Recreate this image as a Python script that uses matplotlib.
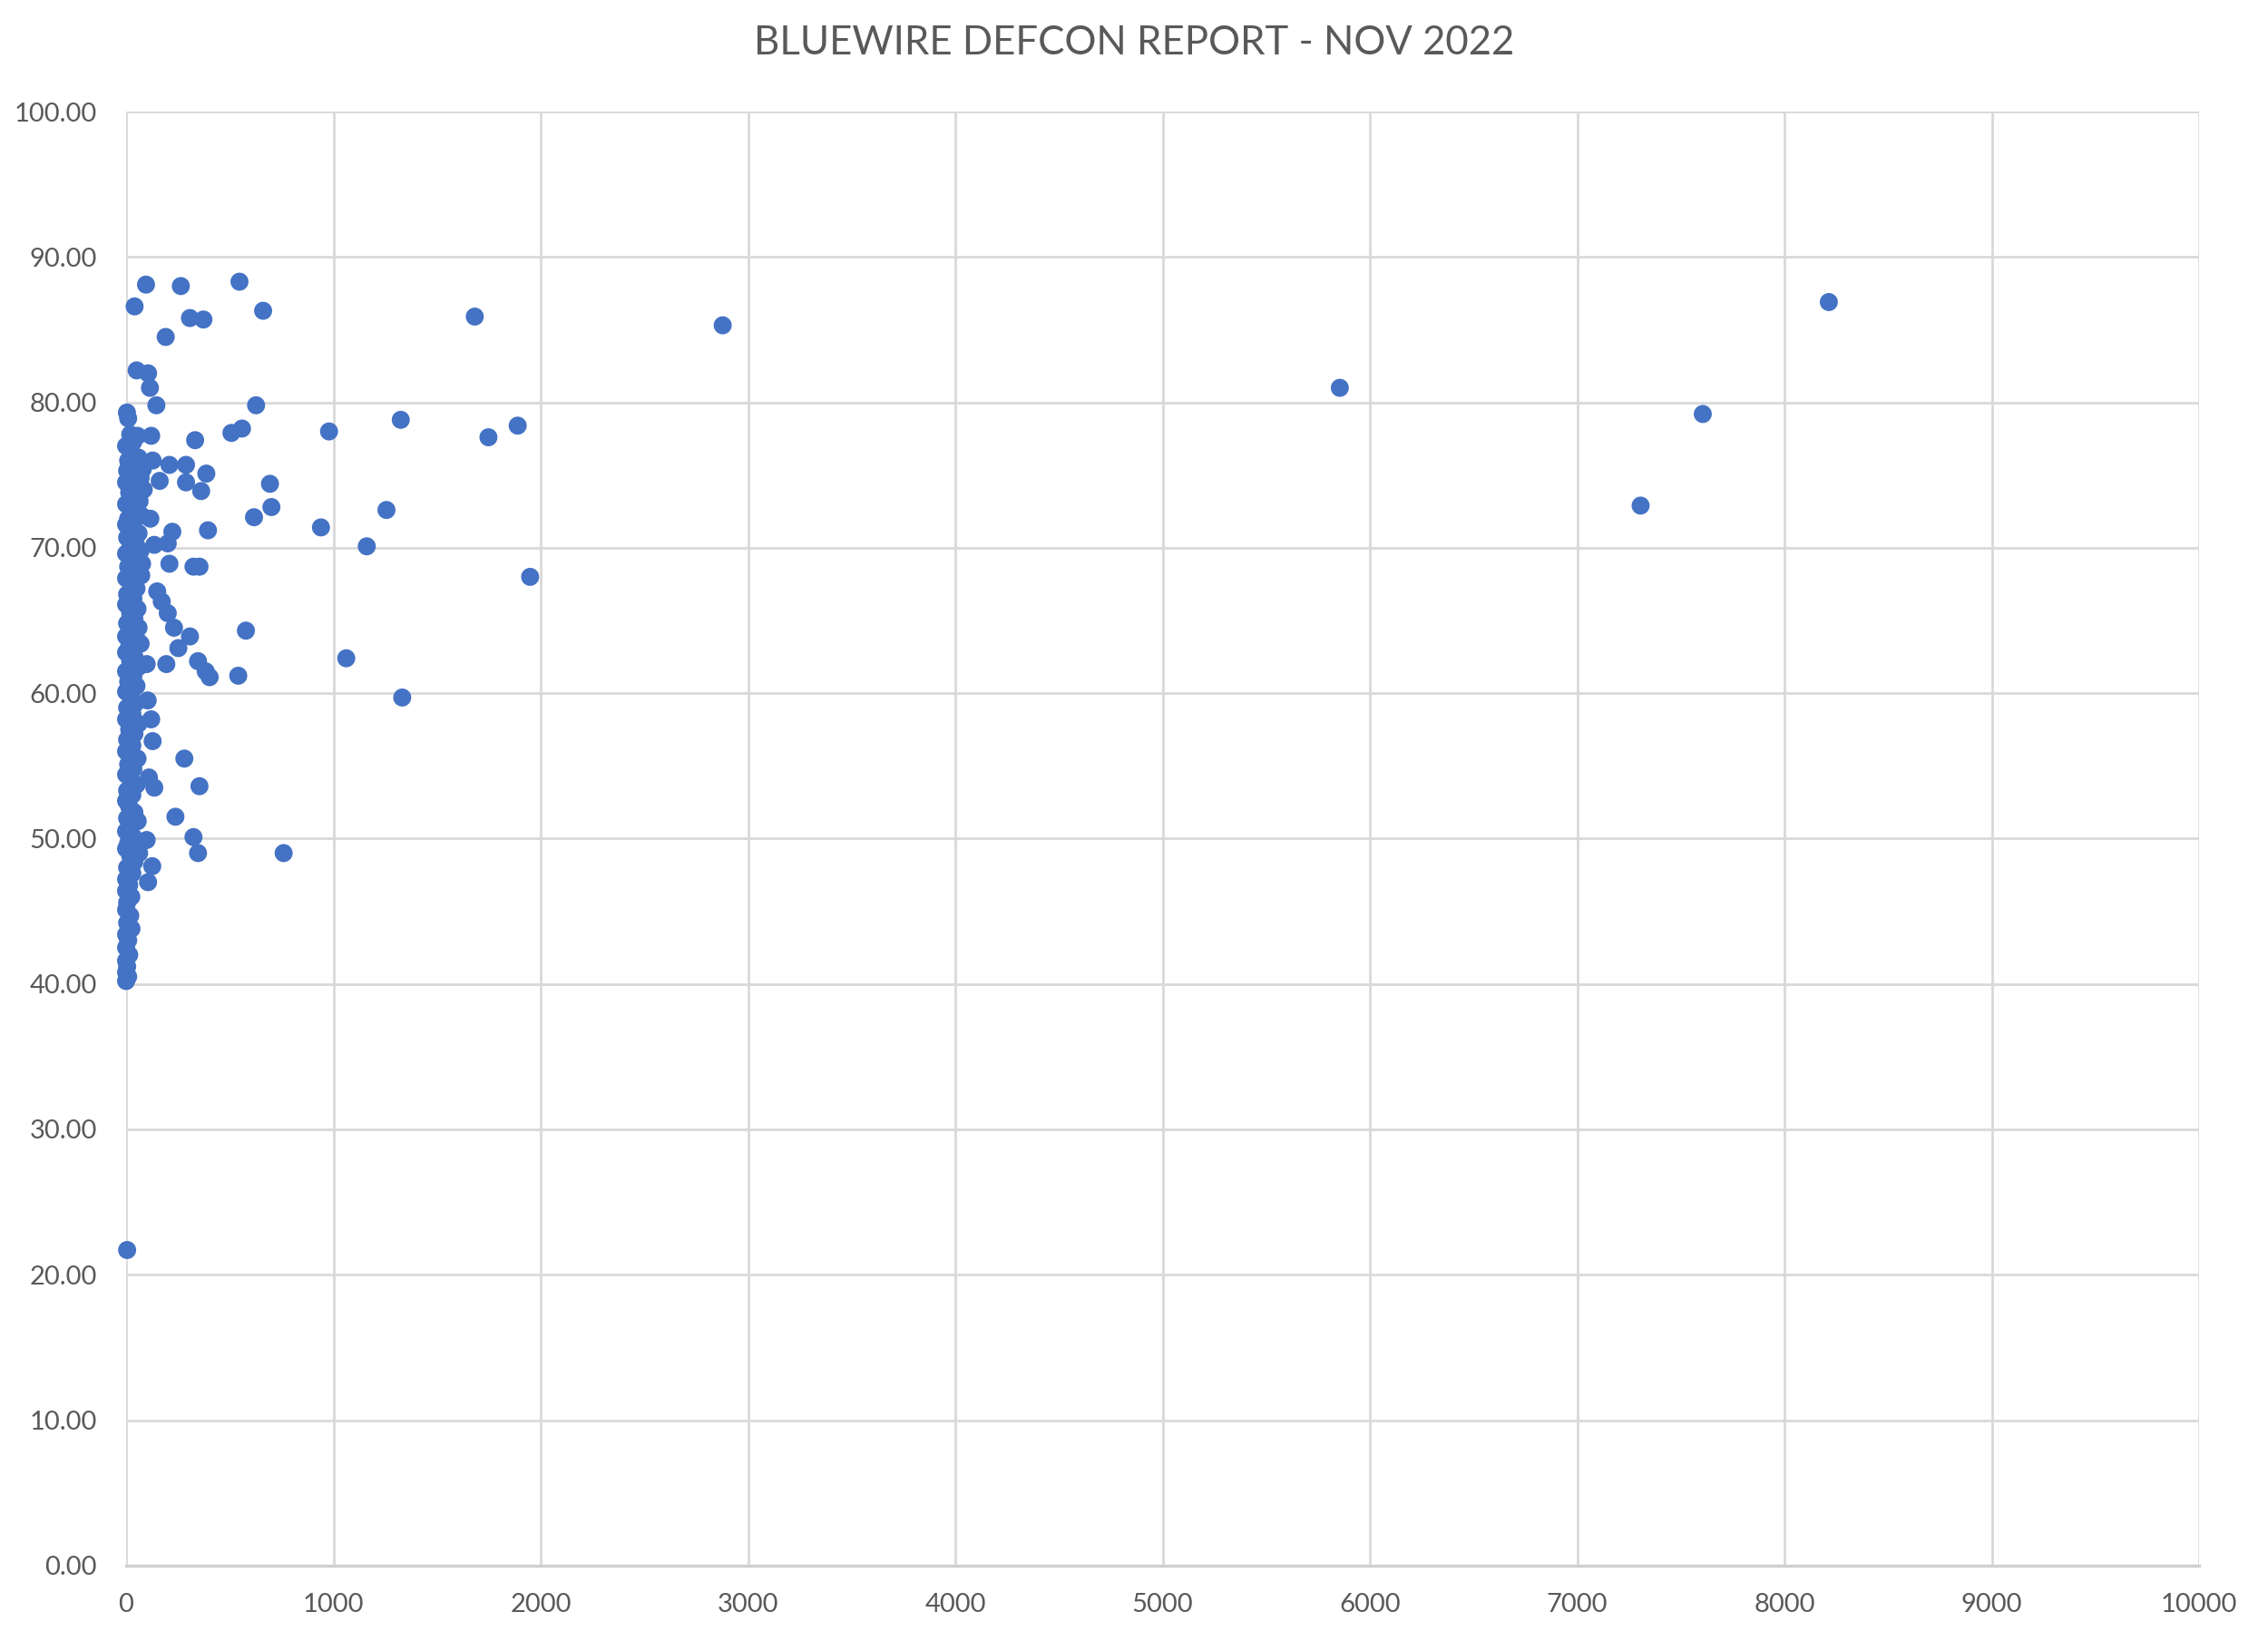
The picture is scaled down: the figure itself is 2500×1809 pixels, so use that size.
import matplotlib
matplotlib.use("Agg")
import matplotlib.pyplot as plt
from matplotlib.ticker import FormatStrFormatter, MultipleLocator

plt.rcParams['font.family'] = ['Lato', 'DejaVu Sans']

# points spread out across the chart
spread_x = [96, 264, 547, 41, 661, 308, 373, 191, 1682, 2878, 51, 106, 115, 146, 627,
            1325, 508, 559, 979, 333, 121, 128, 209, 289, 387, 162, 289, 362, 694, 701,
            1256, 617, 117, 940, 223, 395, 136, 201, 1161, 209, 325, 354, 150, 172, 201,
            231, 308, 578, 252, 1062, 99, 194, 347, 384, 403, 541, 1332, 104, 121, 128,
            281, 136, 354, 238, 99, 325, 347, 760, 126, 106, 1889, 1748, 1949, 5855, 7606,
            7306, 8214, 5, 110]
spread_y = [88.1, 88.0, 88.3, 86.6, 86.3, 85.8, 85.7, 84.5, 85.9, 85.3, 82.2, 82.0, 81.0, 79.8, 79.8,
            78.8, 77.9, 78.2, 78.0, 77.4, 77.7, 76.0, 75.7, 75.7, 75.1, 74.6, 74.5, 73.9, 74.4, 72.8,
            72.6, 72.1, 72.0, 71.4, 71.1, 71.2, 70.2, 70.3, 70.1, 68.9, 68.7, 68.7, 67.0, 66.3, 65.5,
            64.5, 63.9, 64.3, 63.1, 62.4, 62.0, 62.0, 62.2, 61.5, 61.1, 61.2, 59.7, 59.5, 58.2, 56.7,
            55.5, 53.5, 53.6, 51.5, 49.9, 50.1, 49.0, 49.0, 48.1, 47.0, 78.4, 77.6, 68.0, 81.0, 79.2,
            72.9, 86.9, 21.7, 54.2]

# dense column of points close to x = 0
cluster_x = [4, 10, 55, 20, 35,
             0, 25, 60, 10, 45, 80, 5, 30, 70, 0, 50, 85, 15, 40, 65, 0, 25, 55, 10, 75,
             0, 35, 60, 5, 45, 20, 70, 0, 30, 55, 10, 77, 40, 73,
             0, 25, 50, 5, 35, 0, 55, 20, 40, 5, 60, 30, 0, 56, 70, 15,
             0, 40, 20, 60, 0, 35, 10, 50, 0, 25, 45, 5, 30, 0, 60, 15, 40,
             5, 30, 0, 20, 55, 10, 35, 0, 25, 50, 5,
             30, 0, 15, 40, 5, 56, 25, 0, 35, 10, 63, 0, 20, 40, 5, 30, 0,
             15, 0, 25, 5, 0, 20, 26, 5, 0, 10, 0, 15, 0, 5, 0, 10, 0]
cluster_y = [79.3, 78.9, 77.7, 77.8, 77.3,
             77.0, 76.6, 76.2, 76.0, 75.7, 75.4, 75.3, 75.0, 74.8, 74.5, 74.3, 74.0, 73.8, 73.5, 73.2, 73.0, 72.7, 72.4, 72.0, 72.2,
             71.6, 71.3, 71.0, 70.7, 70.4, 70.0, 69.8, 69.6, 69.3, 69.0, 68.7, 68.9, 68.3, 68.1,
             67.9, 67.5, 67.2, 66.8, 66.5, 66.1, 65.8, 65.5, 65.1, 64.8, 64.5, 64.2, 63.9, 63.6, 63.4, 63.2,
             62.8, 62.5, 62.2, 61.8, 61.5, 61.2, 60.8, 60.5, 60.1, 59.8, 59.3, 59.0, 58.6, 58.2, 57.9, 57.5, 57.2,
             56.8, 56.4, 56.0, 55.9, 55.5, 55.1, 54.8, 54.4, 54.0, 53.7, 53.3,
             53.0, 52.6, 52.2, 51.8, 51.4, 51.2, 50.9, 50.5, 50.1, 49.7, 49.0, 49.3, 48.8, 48.4, 48.0, 47.6, 47.2,
             46.8, 46.4, 46.0, 45.6, 45.1, 44.7, 43.8, 44.2, 43.4, 43.0, 42.5, 42.0, 41.6, 41.2, 40.8, 40.5, 40.2]

x_ticks = [0, 1000, 2000, 3000, 4000, 5000, 6000, 7000, 8000, 9000, 10000]

fig = plt.figure(figsize=(25, 18.09), dpi=100)
ax = fig.add_axes([0.0556, 0.046, 0.914, 0.886])

ax.scatter(cluster_x + spread_x, cluster_y + spread_y, s=205, color='#4472C4',
           edgecolors='none', zorder=3, clip_on=False)

ax.set_xlim(0, 10000)
ax.set_ylim(0, 100)
ax.set_xticks(x_ticks)
ax.yaxis.set_major_locator(MultipleLocator(10))
ax.yaxis.set_major_formatter(FormatStrFormatter('%.2f'))

ax.grid(True, color='#d9d9d9', linewidth=2, zorder=0)
for side in ['top', 'right', 'left']:
    ax.spines[side].set_visible(False)
ax.spines['bottom'].set_color('#d0d0d0')
ax.spines['bottom'].set_linewidth(2.5)

ax.tick_params(axis='both', length=0, labelsize=21, labelcolor='#595959')
ax.tick_params(axis='y', pad=23)
ax.tick_params(axis='x', pad=22)

fig.suptitle('BLUEWIRE DEFCON REPORT - NOV 2022', y=0.985, fontsize=31.5, color='#595959')

fig.savefig('out.png', dpi=100, facecolor='white')
